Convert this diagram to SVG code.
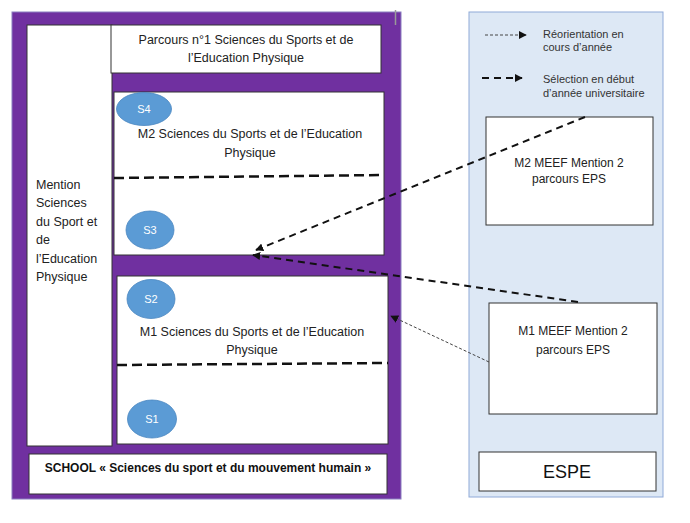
<svg xmlns="http://www.w3.org/2000/svg" width="690" height="523" viewBox="0 0 690 523">
<defs>
<style>
.box{fill:#ffffff;stroke:#333333;stroke-width:1}
.t{font-family:"Liberation Sans",Arial,sans-serif;font-size:12.5px;fill:#222222}
.c{text-anchor:middle}
.lg{font-family:"Liberation Sans",Arial,sans-serif;font-size:11px;fill:#333333}
.sem{fill:#5b9bd5;stroke:#4a86c0;stroke-width:0.8}
.st{font-family:"Liberation Sans",Arial,sans-serif;font-size:11px;fill:#ffffff;text-anchor:middle}
.sep{fill:none;stroke:#111111;stroke-width:2.5;stroke-dasharray:10,5}
.sel{fill:none;stroke:#111111;stroke-width:2;stroke-dasharray:7,5}
.reo{fill:none;stroke:#444444;stroke-width:1;stroke-dasharray:3,2}
</style>
<marker id="ah" viewBox="0 0 10 10" refX="9" refY="5" markerWidth="4" markerHeight="4" orient="auto" markerUnits="strokeWidth">
<path d="M0,0 L10,5 L0,10 z" fill="#111111"/>
</marker>
<marker id="ahs" viewBox="0 0 10 10" refX="9" refY="5" markerWidth="8" markerHeight="8" orient="auto" markerUnits="strokeWidth">
<path d="M0,0 L10,5 L0,10 z" fill="#111111"/>
</marker>
</defs>
<rect width="690" height="523" fill="#ffffff"/>

<g id="school-frame">
<rect x="12" y="12" width="389" height="487" fill="#7030a0" stroke="#8a7fc0" stroke-width="1"/>
<line x1="395.5" y1="10" x2="395.5" y2="25" stroke="#999999" stroke-width="1.5"/>
</g>

<g id="espe-frame">
<rect x="469" y="12" width="194" height="485" fill="#dde8f5" stroke="#8faad8" stroke-width="1"/>
</g>

<g id="mention">
<rect class="box" x="27" y="25" width="85" height="421"/>
<text class="t" x="36" y="188.5">Mention</text>
<text class="t" x="36" y="206.5">Sciences</text>
<text class="t" x="36" y="225.5">du Sport et</text>
<text class="t" x="36" y="243.5">de</text>
<text class="t" x="36" y="262.5">l’Education</text>
<text class="t" x="36" y="280.5">Physique</text>
</g>

<g id="parcours">
<rect class="box" x="111" y="25" width="270" height="48"/>
<text class="t c" x="246" y="43.5">Parcours n°1 Sciences du Sports et de</text>
<text class="t c" x="246" y="61.5">l’Education Physique</text>
</g>

<g id="m2">
<rect class="box" x="114" y="92" width="270" height="163"/>
<text class="t c" x="250" y="137.5">M2 Sciences du Sports et de l’Education</text>
<text class="t c" x="250" y="156.5">Physique</text>
<path class="sep" d="M114,178 L384,175"/>
</g>

<g id="s4">
<ellipse class="sem" cx="144" cy="109" rx="27.5" ry="16.5"/>
<text class="st" x="144" y="113">S4</text>
</g>
<g id="s3">
<ellipse class="sem" cx="150" cy="230" rx="24" ry="19"/>
<text class="st" x="150" y="234">S3</text>
</g>

<g id="m1">
<rect class="box" x="117" y="276" width="271" height="168"/>
<text class="t c" x="252" y="335.5">M1 Sciences du Sports et de l’Education</text>
<text class="t c" x="252" y="353.5">Physique</text>
<path class="sep" d="M117,365 L388,363"/>
</g>

<g id="s2">
<ellipse class="sem" cx="151" cy="299" rx="24" ry="19.5"/>
<text class="st" x="151" y="303">S2</text>
</g>
<g id="s1">
<ellipse class="sem" cx="152" cy="419" rx="24.5" ry="19"/>
<text class="st" x="152" y="423">S1</text>
</g>

<g id="school">
<rect class="box" x="29" y="454" width="358" height="40"/>
<text class="t c" x="208" y="471.5" style="font-size:12px;font-weight:bold;fill:#111111">SCHOOL « Sciences du sport et du mouvement humain »</text>
</g>

<g id="legend">
<path class="reo" d="M485,35 L526,35" marker-end="url(#ahs)"/>
<text class="lg" x="543" y="38">Réorientation en</text>
<text class="lg" x="543" y="51">cours d’année</text>
<path class="sel" d="M482,78 L522,78" marker-end="url(#ah)"/>
<text class="lg" x="543" y="83">Sélection en début</text>
<text class="lg" x="543" y="97">d’année universitaire</text>
</g>

<g id="m2meef">
<rect class="box" x="486" y="117" width="167" height="108"/>
<text class="t c" x="569" y="166.5" style="font-size:12px">M2 MEEF Mention 2</text>
<text class="t c" x="569" y="182.5" style="font-size:12px">parcours EPS</text>
</g>

<g id="m1meef">
<rect class="box" x="489" y="303" width="168" height="111"/>
<text class="t c" x="573" y="334.5" style="font-size:12px">M1 MEEF Mention 2</text>
<text class="t c" x="573" y="353.5" style="font-size:12px">parcours EPS</text>
</g>

<g id="espe">
<rect class="box" x="479" y="452" width="177" height="39"/>
<text class="t c" x="567" y="477.5" style="font-size:18px;fill:#111111">ESPE</text>
</g>

<g id="connectors">
<path class="sel" d="M585,117 L256,250" marker-end="url(#ah)"/>
<path class="sel" d="M578,302 L253,255" marker-end="url(#ah)"/>
<path class="reo" d="M489,362 L391,316" marker-end="url(#ahs)"/>
</g>
</svg>
